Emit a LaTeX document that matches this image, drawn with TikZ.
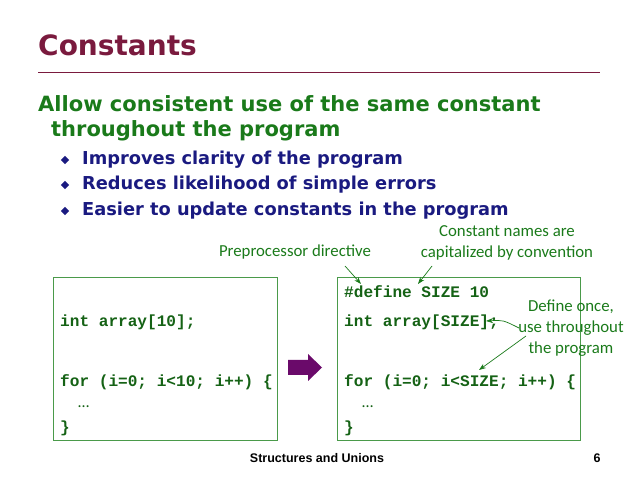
\documentclass[tikz,border=0pt]{standalone}
\usepackage{fontspec}
\setmainfont{DejaVu Sans}
\newfontfamily\annfont{Carlito}
\newfontfamily\codefont{Liberation Mono}
\newfontfamily\footfont{Liberation Sans}
\usetikzlibrary{arrows.meta}
\definecolor{maroon}{HTML}{7A1A3E}
\definecolor{dgreen}{HTML}{1A7A1A}
\definecolor{navy}{HTML}{1A1A80}
\definecolor{boxg}{HTML}{4A9A4A}
\definecolor{purp}{HTML}{6A0A6A}
\tikzset{
 codebox/.style={draw=boxg,line width=0.8pt},
 code/.style={anchor=west,inner sep=0,font=\codefont\bfseries\fontsize{16.1}{18}\selectfont,text=dgreen!80!black},
 ann/.style={inner sep=0,font=\annfont\fontsize{16.8}{21}\selectfont,text=dgreen,align=center},
 bul/.style={anchor=west,inner sep=0,font=\bfseries\fontsize{17.8}{20}\selectfont,text=navy},
 annarrow/.style={-{Stealth[length=7pt,width=5pt]},dgreen,line width=0.7pt},
}
\begin{document}
\begin{tikzpicture}[x=1pt,y=-1pt]
\useasboundingbox (0,0) rectangle (638,478);
\node[anchor=west,inner sep=0,font=\bfseries\fontsize{28}{30}\selectfont,text=maroon] (title) at (38,45) {Constants};
\draw[maroon,line width=1pt] (38,73) -- (600,73);
\node[anchor=north west,inner sep=0,font=\bfseries\fontsize{21}{26}\selectfont,text=dgreen,align=left] (head) at (38,95) {Allow consistent use of the same constant\\[-1pt]\hspace*{13pt}throughout the program};
\foreach \y/\t/\n in {160/Improves clarity of the program/b1,185/Reduces likelihood of simple errors/b2,211/Easier to update constants in the program/b3}{
 \node[fill=navy,rotate=45,minimum size=6pt,inner sep=0] (\n d) at (65,\y) {};
 \node[bul] (\n) at (82,\y) {\t};
}
\node[codebox,minimum width=224pt,minimum height=163pt,anchor=north west] (lbox) at (53,277) {};
\node[codebox,minimum width=243pt,minimum height=163pt,anchor=north west] (rbox) at (337,277) {};
\node[code] (l1) at (60,322) {int array[10];};
\node[code] (l2) at (60,382) {for (i=0; i<10; i++) \{};
\node[code] (l3) at (78,407) {\annfont\mdseries …};
\node[code] (l4) at (60,428) {\}};
\node[code] (r0) at (344,292) {\#define SIZE 10};
\node[code] (r1) at (344,322) {int array[SIZE];};
\node[code] (r2) at (344,382) {for (i=0; i<SIZE; i++) \{};
\node[code] (r3) at (362,407) {\annfont\mdseries …};
\node[code] (r4) at (344,428) {\}};
\node[ann] (a1) at (295,252) {Preprocessor directive};
\node[ann] (a2) at (507,243) {Constant names are\\capitalized by convention};
\node[ann] (a3) at (571,328) {Define once,\\use throughout\\the program};
\coordinate (s1) at (345,266);
\coordinate (s2) at (432,266);
\coordinate (t1) at (361,284);
\coordinate (t2) at (418,284);
\coordinate (t3) at (486,321);
\coordinate (t4) at (479,370);
\draw[annarrow] (s1) -- (t1);
\draw[annarrow] (s2) -- (t2);
\draw[annarrow] (519,328) .. controls (503,320) .. (t3);
\draw[annarrow] (526,336) -- (t4);
\fill[purp] (288,360) rectangle (308,375) (308,354) -- (322,367.5) -- (308,381) -- cycle;
\node[inner sep=0,font=\footfont\bfseries\fontsize{12.5}{14}\selectfont] (foot) at (317,458) {Structures and Unions};
\node[inner sep=0,font=\footfont\bfseries\fontsize{12.5}{14}\selectfont] (pg) at (597,458) {6};
\end{tikzpicture}
\end{document}
